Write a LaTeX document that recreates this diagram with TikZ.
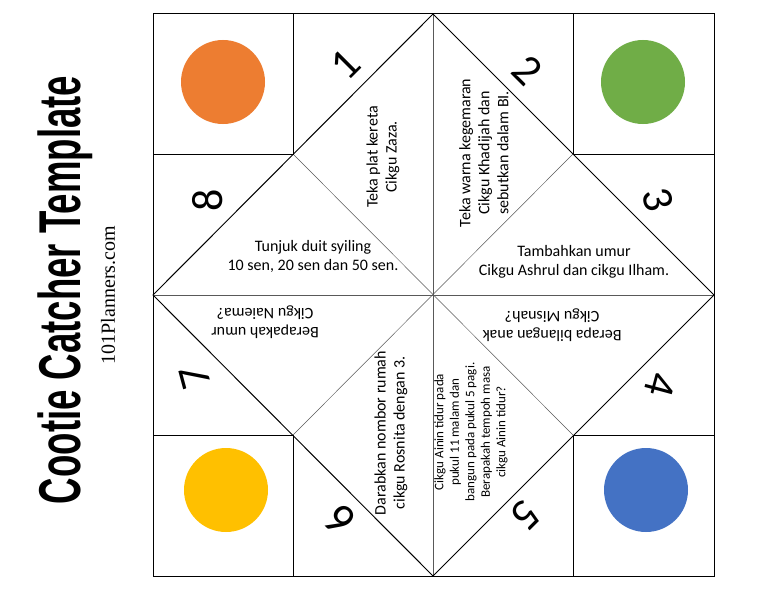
\documentclass[tikz,border=0pt]{standalone}
\usepackage{fontspec}
\usetikzlibrary{shapes.geometric}
\setmainfont{Carlito}
\newfontfamily\titlefont{Liberation Sans}
\newfontfamily\serifb{Liberation Serif}
\definecolor{corange}{HTML}{ED7D31}
\definecolor{cgreen}{HTML}{70AD47}
\definecolor{cyellow}{HTML}{FFC000}
\definecolor{cblue}{HTML}{4472C4}
\begin{document}
\begin{tikzpicture}[x=1pt,y=-1pt,
  frame/.style={line width=1pt,black},
  fold/.style={line width=0.5pt,black!65},
  dot/.style={ellipse,minimum width=84pt,minimum height=84pt,inner sep=0},
  num/.style={font=\fontsize{44}{44}\selectfont},
  msg/.style={font=\fontsize{16}{19}\selectfont,align=center},
  small/.style={font=\fontsize{13}{15.5}\selectfont,align=center}]
\useasboundingbox (0,0) rectangle (768,594);
\fill[white] (0,0) rectangle (768,594);
% folds
\draw[fold] (433,14) -- (433,576);
\draw[fold] (153,295) -- (714,295);
\draw[fold] (293,154) -- (573,435);
\draw[fold] (573,154) -- (293,435);
% diamond and frame
\draw[frame] (433,14) -- (714,295) -- (433,576) -- (153,295) -- cycle;
\draw[frame] (153,14) rectangle (714,576);
\draw[frame] (293,14) -- (293,154) -- (153,154);
\draw[frame] (573,14) -- (573,154) -- (714,154);
\draw[frame] (153,435) -- (293,435) -- (293,576);
\draw[frame] (714,435) -- (573,435) -- (573,576);
% dots
\node[dot,fill=corange] (d1) at (223,82) {};
\node[dot,fill=cgreen] (d2) at (643,82) {};
\node[dot,fill=cyellow] (d3) at (226,490) {};
\node[dot,fill=cblue] (d4) at (646,490) {};
% numbers
\node[num,rotate=45] (n1) at (345,65) {1};
\node[num,rotate=-45] (n2) at (527,70) {2};
\node[num,rotate=-75] (n3) at (658,200) {3};
\node[num,rotate=-105] (n4) at (660,385) {4};
\node[num,rotate=-135] (n5) at (525,515) {5};
\node[num,rotate=135] (n6) at (340,520) {6};
\node[num,rotate=105] (n7) at (195,377) {7};
\node[num,rotate=90] (n8) at (208,200) {8};
% messages
\node[msg,rotate=90] (m1) at (383,157) {Teka plat kereta\\Cikgu Zaza.};
\node[msg,rotate=90] (m2) at (484,153) {Teka warna kegemaran\\Cikgu Khadijah dan\\sebutkan dalam BI.};
\node[msg] (m3) at (574,262) {Tambahkan umur\\Cikgu Ashrul dan cikgu Ilham.};
\node[msg] (m8) at (313,256) {Tunjuk duit syiling\\10 sen, 20 sen dan 50 sen.};
\node[msg,rotate=180] (m7) at (265,322) {Berapakah umur\\Cikgu Naiema?};
\node[msg,rotate=180] (m4) at (552,325) {Berapa bilangan anak\\Cikgu Misnah?};
\node[msg,rotate=90] (m6) at (391,433) {Darabkan nombor rumah\\cikgu Rosnita dengan 3.};
\node[small,rotate=90] (m5) at (471,432) {Cikgu Ainin tidur pada\\pukul 11 malam dan\\bangun pada pukul 5 pagi.\\Berapakah tempoh masa\\cikgu Ainin tidur?};
% title
\node[rotate=90] (title) at (65,290) {\scalebox{0.62}[1]{\titlefont\bfseries\fontsize{59}{59}\selectfont Cootie Catcher Template}};
\node[rotate=90,font=\serifb\fontsize{20}{20}\selectfont] (site) at (108,295) {101Planners.com};
\end{tikzpicture}
\end{document}
